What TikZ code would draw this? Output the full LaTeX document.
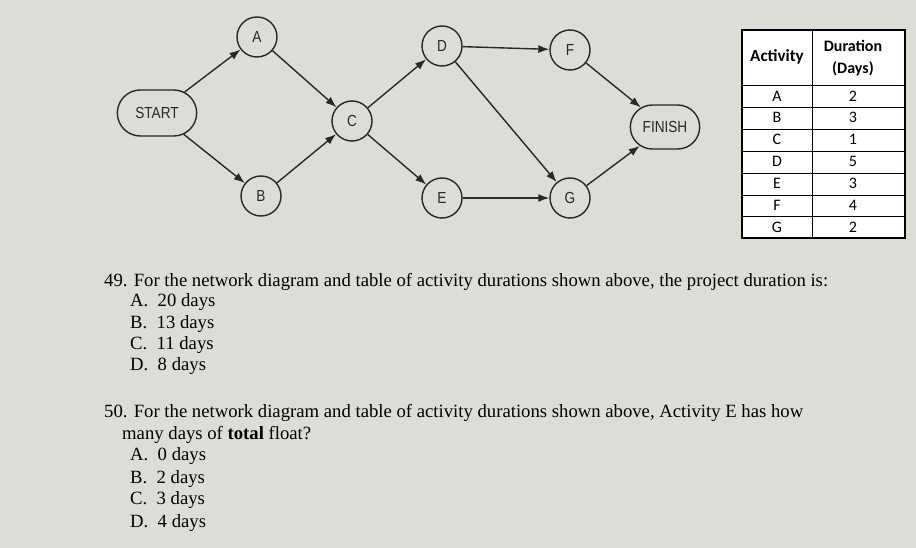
\documentclass[tikz,border=0pt]{standalone}
\usepackage{fontspec}
\setmainfont{Liberation Serif}
\newfontfamily\dia{Liberation Sans}[FakeStretch=0.85]
\newfontfamily\tab{Carlito}
\usetikzlibrary{shapes.misc,arrows.meta}
\definecolor{paper}{RGB}{222,220,214}
\definecolor{ink}{RGB}{40,40,40}
\tikzset{
 circ/.style={circle,draw=ink,line width=1.4pt,minimum size=40pt,inner sep=0pt,font=\dia\fontsize{16}{16}\selectfont,text=ink},
 term/.style={rounded rectangle,draw=ink,line width=1.4pt,minimum width=86pt,minimum height=46pt,font=\dia\fontsize{16}{16}\selectfont,text=ink},
 arr/.style={-{Latex[length=11pt,width=8pt]},draw=ink,line width=1.4pt},
 q/.style={anchor=west,font=\fontsize{18.7}{18.7}\selectfont,text=black,inner sep=0pt},
 cell/.style={font=\tab\fontsize{16}{16}\selectfont,inner sep=0pt}
}
\begin{document}
\begin{tikzpicture}[x=1pt,y=-1pt]
\fill[paper] (0,0) rectangle (916,548);
\useasboundingbox (0,0) rectangle (916,548);
\node[term] (start) at (157,113) {START};
\node[circ] (a) at (257,37) {A};
\node[circ] (b) at (261,196) {B};
\node[circ] (c) at (352,121) {C};
\node[circ] (d) at (442,46) {D};
\node[circ] (e) at (442,198) {E};
\node[circ] (f) at (570,50) {F};
\node[circ] (g) at (570,198) {G};
\node[term,minimum width=76pt,minimum height=44pt] (fin) at (665,127) {FINISH};
\draw[arr] (start) -- (a);
\draw[arr] (start) -- (b);
\draw[arr] (a) -- (c);
\draw[arr] (b) -- (c);
\draw[arr] (c) -- (d);
\draw[arr] (c) -- (e);
\draw[arr] (d) -- (f);
\draw[arr] (d) -- (g);
\draw[arr] (e) -- (g);
\draw[arr] (f) -- (fin);
\draw[arr] (g) -- (fin);
% table
\fill[white] (742,30) rectangle (905,238);
\draw[black,line width=1.2pt] (742,30) rectangle (905,238);
\draw[black] (812,30) -- (812,238);
\foreach \y in {85,107,129,151,173,195,216} \draw[black] (742,\y) -- (905,\y);
\node[cell,font=\tab\bfseries\fontsize{17}{17}\selectfont] (h1) at (777,57) {Activity};
\node[cell,font=\tab\bfseries\fontsize{16}{16}\selectfont,align=center] (h2) at (853,58) {Duration\\[6pt](Days)};
\foreach \a/\d [count=\i] in {A/2,B/3,C/1,D/5,E/3,F/4,G/2}{
 \node[cell] (act\i) at (777,{85+21.9*(\i-0.5)}) {\a};
 \node[cell] (dur\i) at (853,{85+21.9*(\i-0.5)}) {\d};
}
% questions
\node[q] (q49) at (104,282) {49. For the network diagram and table of activity durations shown above, the project duration is:};
\node[q] (a1) at (130,302) {A.\ \ 20 days};
\node[q] (a2) at (130,324) {B.\ \ 13 days};
\node[q] (a3) at (130,345) {C.\ \ 11 days};
\node[q] (a4) at (130,366) {D.\ \ 8 days};
\node[q] (q50) at (104,413) {50. For the network diagram and table of activity durations shown above, Activity E has how};
\node[q] (q50b) at (122,435) {many days of \textbf{total} float?};
\node[q] (b1) at (130,456) {A.\ \ 0 days};
\node[q] (b2) at (130,479) {B.\ \ 2 days};
\node[q] (b3) at (130,500) {C.\ \ 3 days};
\node[q] (b4) at (130,523) {D.\ \ 4 days};
\end{tikzpicture}
\end{document}
